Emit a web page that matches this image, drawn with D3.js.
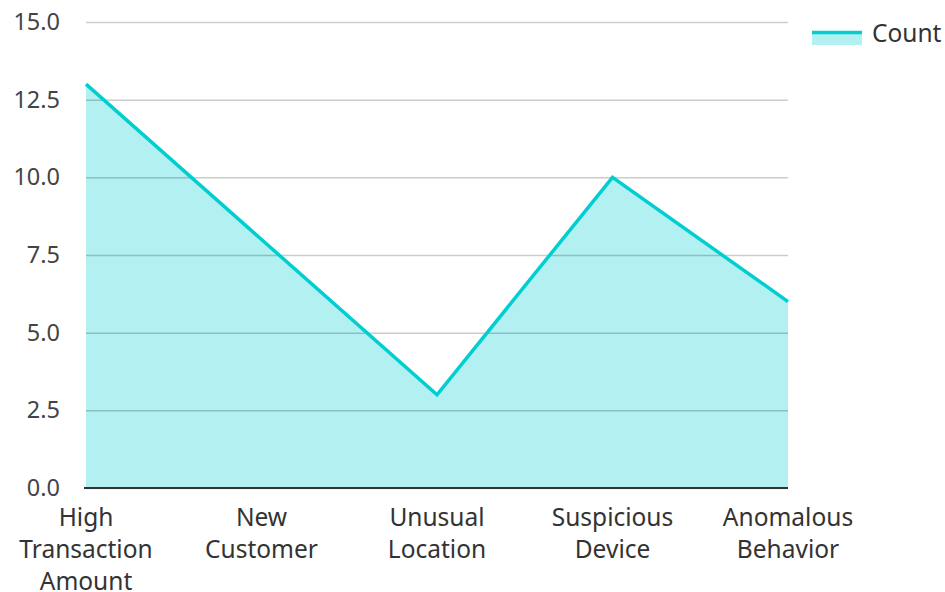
<!DOCTYPE html>
<html><head><meta charset="utf-8">
<script src="https://cdn.jsdelivr.net/npm/d3@7"></script>
<style>body{margin:0;background:#fff;}svg{display:block;font-family:"Noto Sans","Open Sans",sans-serif;}</style>
</head><body><svg id="c" width="945" height="592"></svg>
<script>
const categories = ["High Transaction Amount","New Customer","Unusual Location","Suspicious Device","Anomalous Behavior"];
const categoryLines = [["High","Transaction","Amount"],["New","Customer"],["Unusual","Location"],["Suspicious","Device"],["Anomalous","Behavior"]];
const counts = [13, 8, 3, 10, 6];
const yTicks = [0, 2.5, 5, 7.5, 10, 12.5, 15];
const seriesName = "Count";

const svg = d3.select("#c");
const mLeft = 86, mRight = 788, mTop = 22, mBottom = 488;
const x = d3.scalePoint().domain(categories).range([mLeft, mRight]);
const y = d3.scaleLinear().domain([0, 15]).range([mBottom, mTop]);
const data = categories.map((c, i) => ({c, v: counts[i]}));

svg.append("path").datum(data)
  .attr("d", d3.area().x(d => x(d.c)).y0(y(0)).y1(d => y(d.v)))
  .attr("fill", "rgba(0,206,209,0.3)");

const yAxis = svg.append("g").attr("transform", `translate(${mLeft},0)`)
  .call(d3.axisLeft(y).tickValues(yTicks).tickFormat(d3.format(".1f")).tickSize(-(mRight - mLeft)).tickPadding(26));
yAxis.select(".domain").remove();
yAxis.selectAll(".tick line").attr("stroke", "rgba(0,0,0,0.2)").attr("stroke-width", 1.5);
yAxis.selectAll(".tick text").attr("font-size", 23.5).attr("fill", "#444").attr("font-family", '"Noto Sans","Open Sans",sans-serif');

svg.append("path").datum(data)
  .attr("d", d3.line().x(d => x(d.c)).y(d => y(d.v)))
  .attr("fill", "none").attr("stroke", "#00CED1").attr("stroke-width", 3.5);

svg.append("line").attr("x1", mLeft - 2).attr("x2", mRight).attr("y1", y(0)).attr("y2", y(0))
  .attr("stroke", "#333").attr("stroke-width", 2);

const xl = svg.append("g");
categories.forEach((c, i) => {
  const t = xl.append("text").attr("x", x(c)).attr("text-anchor", "middle")
    .attr("font-size", 24.5).attr("fill", "#333");
  categoryLines[i].forEach((ln, j) => {
    t.append("tspan").attr("x", x(c)).attr("y", 525.5 + j * 32.3).text(ln);
  });
});

const lg = svg.append("g");
lg.append("rect").attr("x", 812).attr("y", 31).attr("width", 50).attr("height", 14).attr("fill", "rgba(0,206,209,0.3)");
lg.append("line").attr("x1", 812).attr("x2", 862).attr("y1", 32.5).attr("y2", 32.5).attr("stroke", "#00CED1").attr("stroke-width", 3.5);
lg.append("text").attr("x", 872).attr("y", 42).attr("font-size", 24.5).attr("fill", "#333").text(seriesName);
</script></body></html>
